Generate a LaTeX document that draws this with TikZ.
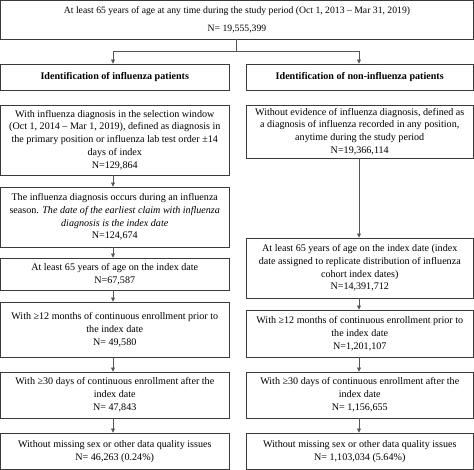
\documentclass[tikz,border=0pt]{standalone}
\usepackage{fontspec}
\setmainfont{Liberation Serif}
\usetikzlibrary{arrows.meta}
\definecolor{boxline}{HTML}{3A3A3A}
\definecolor{conn}{HTML}{555555}
\tikzset{
  box/.style={draw=boxline, line width=0.9pt, align=center, inner sep=0pt,
    font=\fontsize{10.1}{12.8}\selectfont, text=black},
  lbox/.style={box, minimum width=228.5pt},
  rbox/.style={box, minimum width=227.5pt},
  conn/.style={draw=conn, line width=0.7pt, -{Triangle[length=4pt,width=4pt]}},
}
\begin{document}
\begin{tikzpicture}[x=1pt,y=-1pt]
\useasboundingbox (0,0) rectangle (474,470);
% top
\node[box, minimum width=473pt, minimum height=38.5pt,
  font=\fontsize{9.7}{18}\selectfont] (top) at (237,19.75)
  {At least 65 years of age at any time during the study period (Oct 1, 2013 -- Mar 31, 2019)\\N= 19,555,399};
% headers
\node[lbox, minimum height=26pt, font=\fontsize{10.1}{12.8}\selectfont\bfseries] (L0) at (114.75,77) {Identification of influenza patients};
\node[rbox, minimum height=26pt, font=\fontsize{10.1}{12.8}\selectfont\bfseries] (R0) at (359.75,77) {Identification of non-influenza patients};
% left column
\node[lbox, minimum height=70pt] (L1) at (114.75,140)
  {With influenza diagnosis in the selection window\\(Oct 1, 2014 -- Mar 1, 2019), defined as diagnosis in\\the primary position or influenza lab test order ±14\\days of index\\N=129,864};
\node[lbox, minimum height=60pt] (L2) at (114.75,217)
  {The influenza diagnosis occurs during an influenza\\season. \textit{The date of the earliest claim with influenza}\\\textit{diagnosis is the index date}\\N=124,674};
\node[lbox, minimum height=32pt] (L3) at (114.75,274)
  {At least 65 years of age on the index date\\N=67,587};
\node[lbox, minimum height=55pt] (L4) at (114.75,329.5)
  {With ≥12 months of continuous enrollment prior to\\the index date\\N= 49,580};
\node[lbox, minimum height=46pt] (L5) at (114.75,395)
  {With ≥30 days of continuous enrollment after the\\index date\\N= 47,843};
\node[lbox, minimum height=36.5pt] (L6) at (114.75,451.25)
  {Without missing sex or other data quality issues\\N= 46,263 (0.24\%)};
% right column
\node[rbox, minimum height=53pt] (R1) at (359.75,131.5)
  {Without evidence of influenza diagnosis, defined as\\a diagnosis of influenza recorded in any position,\\anytime during the study period\\N=19,366,114};
\node[rbox, minimum height=60pt] (R2) at (359.75,268)
  {At least 65 years of age on the index date (index\\date assigned to replicate distribution of influenza\\cohort index dates)\\N=14,391,712};
\node[rbox, minimum height=47pt] (R3) at (359.75,333.5)
  {With ≥12 months of continuous enrollment prior to\\the index date\\N=1,201,107};
\node[rbox, minimum height=46pt] (R4) at (359.75,395)
  {With ≥30 days of continuous enrollment after the\\index date\\N= 1,156,655};
\node[rbox, minimum height=36.5pt] (R5) at (359.75,451.25)
  {Without missing sex or other data quality issues\\N= 1,103,034 (5.64\%)};
% connectors
\coordinate (split) at (236,51);
\draw[draw=conn, line width=0.7pt] (top.south -| split) -- (split);
\draw[conn] (split) -| (L0.north -| 113,0);
\draw[conn] (split) -| (R0.north -| 359,0);
\draw[conn] (L1.south -| 113,0) -- (L2.north -| 113,0);
\draw[conn] (L2.south -| 113,0) -- (L3.north -| 113,0);
\draw[conn] (L3.south -| 113,0) -- (L4.north -| 113,0);
\draw[conn] (L4.south -| 113,0) -- (L5.north -| 113,0);
\draw[conn] (L5.south -| 113,0) -- (L6.north -| 113,0);
\draw[conn] (R1.south -| 359,0) -- (R2.north -| 359,0);
\draw[conn] (R2.south -| 359,0) -- (R3.north -| 359,0);
\draw[conn] (R3.south -| 359,0) -- (R4.north -| 359,0);
\draw[conn] (R4.south -| 359,0) -- (R5.north -| 359,0);
\end{tikzpicture}
\end{document}
